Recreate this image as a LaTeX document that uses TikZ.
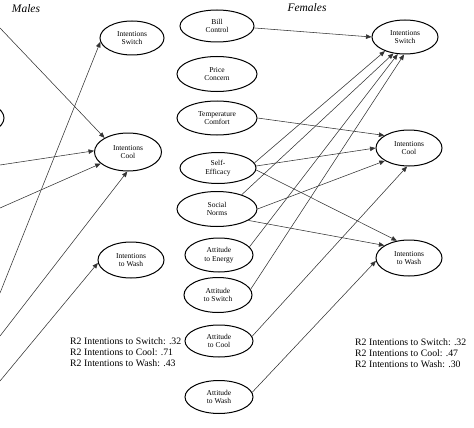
\documentclass[tikz,border=0pt]{standalone}
\usepackage{fontspec}
\setmainfont{Liberation Serif}
\usetikzlibrary{shapes.geometric,arrows.meta}
\begin{document}
\begin{tikzpicture}[x=1pt,y=-1pt,
  ell/.style={draw, line width=1pt, ellipse, inner sep=0pt, align=center, font=\fontsize{7.5}{8.5}\selectfont},
  conn/.style={line width=0.55pt, draw=black!80, -{Triangle[length=5.5pt,width=4.5pt]}},
  r2/.style={font=\fontsize{9.8}{11}\selectfont, align=left, anchor=west, inner sep=0pt},
  ttl/.style={font=\fontsize{11.5}{13}\selectfont\itshape, inner sep=0pt}]
\useasboundingbox (0,0) rectangle (474,428);
\clip (0,0) rectangle (474,428);
% titles
\node[ttl] (tm) at (26,9) {Males};
\node[ttl] (tf) at (307,8) {Females};
% males
\node[ell, minimum width=64pt, minimum height=34pt] (msw) at (132,38) {Intentions\\Switch};
\node[ell, minimum width=67pt, minimum height=38pt] (mco) at (128,152) {Intentions\\Cool};
\node[ell, minimum width=66pt, minimum height=36pt] (mwa) at (131,260) {Intentions\\to Wash};
\node[ell, minimum width=64pt, minimum height=34pt] (mpart) at (-28,118) {};
\coordinate (m1) at (0,28);
\coordinate (m2) at (0,293);
\coordinate (m3) at (0,165);
\coordinate (m4) at (0,208);
\coordinate (m5) at (0,336);
\coordinate (m6) at (0,381);
\draw[conn] (m1) -- (mco.149);
\draw[conn] (m2) -- (msw.187);
\draw[conn] (m3) -- (mco.178);
\draw[conn] (m4) -- (mco.203);
\draw[conn] (m5) -- (mco.268);
\draw[conn] (m6) -- (mwa.185);
\node[r2] (r2m) at (70,352) {R2 Intentions to Switch: .32\\R2 Intentions to Cool: .71\\R2 Intentions to Wash: .43};
% females predictors
\node[ell, minimum width=74pt, minimum height=32pt] (bc) at (217,26) {Bill\\Control};
\node[ell, minimum width=80pt, minimum height=35pt] (pc) at (217,74) {Price\\Concern};
\node[ell, minimum width=80pt, minimum height=34pt] (tc) at (217,118) {Temperature\\Comfort};
\node[ell, minimum width=76pt, minimum height=31pt] (se) at (218,168) {Self-\\Efficacy};
\node[ell, minimum width=80pt, minimum height=35pt] (sn) at (217,209) {Social\\Norms};
\node[ell, minimum width=68pt, minimum height=34pt] (aen) at (219,255) {Attitude\\to Energy};
\node[ell, minimum width=68pt, minimum height=35pt] (asw) at (218,295) {Attitude\\to Switch};
\node[ell, minimum width=68pt, minimum height=32pt] (aco) at (219,341) {Attitude\\to Cool};
\node[ell, minimum width=68pt, minimum height=33pt] (awa) at (219,397) {Attitude\\to Wash};
% females outcomes
\node[ell, minimum width=66pt, minimum height=34pt] (fsw) at (405,37) {Intentions\\Switch};
\node[ell, minimum width=66pt, minimum height=36pt] (fco) at (409,148) {Intentions\\Cool};
\node[ell, minimum width=66pt, minimum height=36pt] (fwa) at (409,258) {Intentions\\to Wash};
% female connectors
\draw[conn] (bc.-3) -- (fsw.180);
\draw[conn] (tc.0) -- (fco.153);
\draw[conn] (se.8) -- (fsw.215);
\draw[conn] (se.3) -- (fco.180);
\draw[conn] (se.-3) -- (fwa.125);
\draw[conn] (sn.30) -- (fsw.235);
\draw[conn] (sn.0) -- (fco.208);
\draw[conn] (sn.-20) -- (fwa.153);
\draw[conn] (aen.15) -- (fsw.247);
\draw[conn] (asw.10) -- (fsw.267);
\draw[conn] (aco.8) -- (fco.264);
\draw[conn] (awa.8) -- (fwa.185);
\node[r2] (r2f) at (355,353) {R2 Intentions to Switch: .32\\R2 Intentions to Cool: .47\\R2 Intentions to Wash: .30};
\end{tikzpicture}
\end{document}
